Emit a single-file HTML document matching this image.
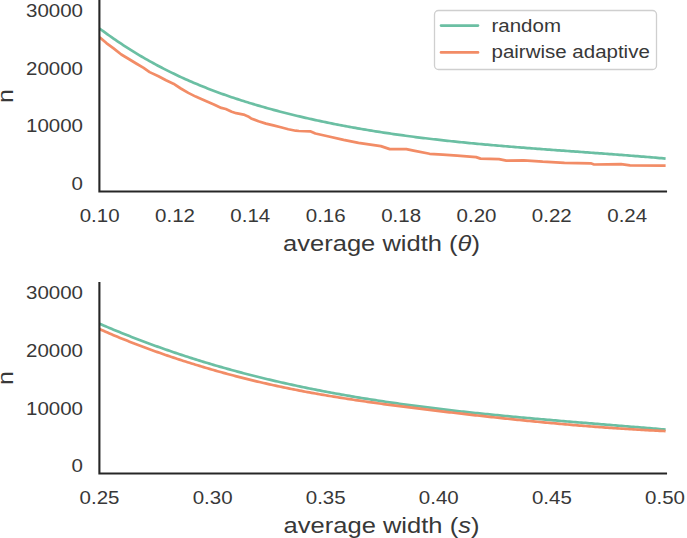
<!DOCTYPE html>
<html><head><meta charset="utf-8"><style>
html,body{margin:0;padding:0;background:#fff;}
svg{display:block;}
.tk{font-family:"Liberation Sans", sans-serif;font-size:18.5px;fill:#383838;}
.lb{font-family:"Liberation Sans", sans-serif;font-size:22.6px;fill:#383838;}
</style></head><body>
<svg width="687" height="538" viewBox="0 0 687 538">
<rect width="687" height="538" fill="#fff"/>
<text transform="translate(83,17.0) scale(1.108,1)" text-anchor="end" class="tk">30000</text>
<text transform="translate(83,75.1) scale(1.108,1)" text-anchor="end" class="tk">20000</text>
<text transform="translate(83,132.3) scale(1.108,1)" text-anchor="end" class="tk">10000</text>
<text transform="translate(83,190.1) scale(1.108,1)" text-anchor="end" class="tk">0</text>
<text transform="translate(99.6,222.0) scale(1.108,1)" text-anchor="middle" class="tk">0.10</text>
<text transform="translate(175.0,222.0) scale(1.108,1)" text-anchor="middle" class="tk">0.12</text>
<text transform="translate(250.3,222.0) scale(1.108,1)" text-anchor="middle" class="tk">0.14</text>
<text transform="translate(325.7,222.0) scale(1.108,1)" text-anchor="middle" class="tk">0.16</text>
<text transform="translate(401.1,222.0) scale(1.108,1)" text-anchor="middle" class="tk">0.18</text>
<text transform="translate(476.5,222.0) scale(1.108,1)" text-anchor="middle" class="tk">0.20</text>
<text transform="translate(551.8,222.0) scale(1.108,1)" text-anchor="middle" class="tk">0.22</text>
<text transform="translate(627.2,222.0) scale(1.108,1)" text-anchor="middle" class="tk">0.24</text>
<text transform="translate(381.5,250.6) scale(1.13,1)" text-anchor="middle" class="lb">average width (<tspan font-style="italic">θ</tspan>)</text>
<text transform="translate(13,96.2) rotate(-90) scale(1.1,1)" text-anchor="middle" class="lb">n</text>
<path d="M99.5,28.47 L101.5,29.97 L103.5,31.44 L105.5,32.90 L107.5,34.34 L109.5,35.77 L111.5,37.18 L113.5,38.58 L115.5,39.95 L117.5,41.32 L119.5,42.66 L121.5,43.99 L123.5,45.31 L125.5,46.61 L127.5,47.89 L129.5,49.16 L131.5,50.42 L133.5,51.66 L135.5,52.88 L137.5,54.09 L139.5,55.29 L141.5,56.47 L143.5,57.64 L145.5,58.80 L147.5,59.94 L149.5,61.07 L151.5,62.18 L153.5,63.28 L155.5,64.37 L157.5,65.44 L159.5,66.50 L161.5,67.55 L163.5,68.58 L165.5,69.61 L167.5,70.62 L169.5,71.61 L171.5,72.60 L173.5,73.57 L175.5,74.53 L177.5,75.48 L179.5,76.42 L181.5,77.35 L183.5,78.26 L185.5,79.17 L187.5,80.06 L189.5,80.94 L191.5,81.81 L193.5,82.67 L195.5,83.52 L197.5,84.36 L199.5,85.19 L201.5,86.01 L203.5,86.82 L205.5,87.61 L207.5,88.40 L209.5,89.18 L211.5,89.95 L213.5,90.71 L215.5,91.46 L217.5,92.21 L219.5,92.94 L221.5,93.66 L223.5,94.38 L225.5,95.09 L227.5,95.78 L229.5,96.47 L231.5,97.16 L233.5,97.83 L235.5,98.50 L237.5,99.15 L239.5,99.81 L241.5,100.45 L243.5,101.08 L245.5,101.71 L247.5,102.33 L249.5,102.95 L251.5,103.56 L253.5,104.16 L255.5,104.75 L257.5,105.34 L259.5,105.92 L261.5,106.50 L263.5,107.07 L265.5,107.63 L267.5,108.19 L269.5,108.74 L271.5,109.29 L273.5,109.83 L275.5,110.37 L277.5,110.90 L279.5,111.43 L281.5,111.95 L283.5,112.46 L285.5,112.97 L287.5,113.48 L289.5,113.98 L291.5,114.48 L293.5,114.97 L295.5,115.45 L297.5,115.94 L299.5,116.41 L301.5,116.88 L303.5,117.35 L305.5,117.81 L307.5,118.27 L309.5,118.73 L311.5,119.17 L313.5,119.62 L315.5,120.06 L317.5,120.49 L319.5,120.92 L321.5,121.35 L323.5,121.77 L325.5,122.19 L327.5,122.60 L329.5,123.01 L331.5,123.42 L333.5,123.82 L335.5,124.21 L337.5,124.61 L339.5,124.99 L341.5,125.38 L343.5,125.76 L345.5,126.13 L347.5,126.51 L349.5,126.87 L351.5,127.24 L353.5,127.60 L355.5,127.95 L357.5,128.31 L359.5,128.66 L361.5,129.00 L363.5,129.34 L365.5,129.68 L367.5,130.01 L369.5,130.35 L371.5,130.67 L373.5,131.00 L375.5,131.32 L377.5,131.63 L379.5,131.95 L381.5,132.26 L383.5,132.56 L385.5,132.86 L387.5,133.16 L389.5,133.46 L391.5,133.75 L393.5,134.04 L395.5,134.33 L397.5,134.62 L399.5,134.90 L401.5,135.17 L403.5,135.45 L405.5,135.72 L407.5,135.99 L409.5,136.26 L411.5,136.52 L413.5,136.78 L415.5,137.04 L417.5,137.29 L419.5,137.54 L421.5,137.79 L423.5,138.04 L425.5,138.28 L427.5,138.52 L429.5,138.76 L431.5,139.00 L433.5,139.23 L435.5,139.46 L437.5,139.69 L439.5,139.92 L441.5,140.14 L443.5,140.36 L445.5,140.58 L447.5,140.80 L449.5,141.02 L451.5,141.23 L453.5,141.44 L455.5,141.65 L457.5,141.85 L459.5,142.06 L461.5,142.26 L463.5,142.46 L465.5,142.66 L467.5,142.86 L469.5,143.05 L471.5,143.24 L473.5,143.44 L475.5,143.62 L477.5,143.81 L479.5,144.00 L481.5,144.18 L483.5,144.36 L485.5,144.55 L487.5,144.72 L489.5,144.90 L491.5,145.08 L493.5,145.25 L495.5,145.43 L497.5,145.60 L499.5,145.77 L501.5,145.94 L503.5,146.11 L505.5,146.27 L507.5,146.44 L509.5,146.60 L511.5,146.77 L513.5,146.93 L515.5,147.09 L517.5,147.25 L519.5,147.41 L521.5,147.57 L523.5,147.72 L525.5,147.88 L527.5,148.03 L529.5,148.19 L531.5,148.34 L533.5,148.49 L535.5,148.65 L537.5,148.80 L539.5,148.95 L541.5,149.10 L543.5,149.25 L545.5,149.39 L547.5,149.54 L549.5,149.69 L551.5,149.84 L553.5,149.98 L555.5,150.13 L557.5,150.28 L559.5,150.42 L561.5,150.57 L563.5,150.71 L565.5,150.86 L567.5,151.00 L569.5,151.15 L571.5,151.29 L573.5,151.44 L575.5,151.58 L577.5,151.72 L579.5,151.87 L581.5,152.01 L583.5,152.16 L585.5,152.30 L587.5,152.44 L589.5,152.59 L591.5,152.73 L593.5,152.88 L595.5,153.03 L597.5,153.17 L599.5,153.32 L601.5,153.46 L603.5,153.61 L605.5,153.76 L607.5,153.91 L609.5,154.05 L611.5,154.20 L613.5,154.35 L615.5,154.50 L617.5,154.65 L619.5,154.80 L621.5,154.96 L623.5,155.11 L625.5,155.26 L627.5,155.42 L629.5,155.57 L631.5,155.73 L633.5,155.89 L635.5,156.05 L637.5,156.21 L639.5,156.37 L641.5,156.53 L643.5,156.69 L645.5,156.85 L647.5,157.02 L649.5,157.18 L651.5,157.35 L653.5,157.52 L655.5,157.69 L657.5,157.86 L659.5,158.03 L661.5,158.21 L663.5,158.38 L665.5,158.56 L665.6,158.57" fill="none" stroke="#6bbfa3" stroke-width="2.7" stroke-linejoin="round" stroke-linecap="butt"/>
<path d="M99.5,37.40 L100.5,37.90 L106.4,43.10 L113.9,48.60 L121.3,54.50 L128.8,59.00 L136.2,63.50 L143.6,67.90 L149.6,72.10 L158.5,76.30 L166.0,80.30 L173.4,83.70 L180.8,88.50 L188.3,92.90 L195.7,96.60 L199.0,98.00 L206.4,101.30 L213.9,104.50 L221.3,107.90 L225.8,109.00 L231.7,111.70 L236.2,113.20 L243.6,114.60 L248.1,116.40 L251.1,118.40 L258.5,121.30 L266.0,123.60 L273.4,125.40 L280.8,127.30 L288.3,129.20 L295.7,130.70 L299.0,131.00 L310.2,131.30 L315.4,133.50 L328.8,136.50 L343.6,139.90 L358.5,142.90 L380.8,146.10 L389.8,149.10 L399.0,149.20 L406.3,149.10 L413.6,150.60 L429.6,153.80 L442.7,154.60 L457.2,155.70 L476.1,157.10 L480.5,158.60 L499.0,159.20 L506.3,160.60 L523.7,160.30 L542.7,161.70 L564.5,162.80 L590.7,163.30 L594.1,164.50 L621.0,164.20 L630.0,165.40 L664.6,165.60 L665.6,165.60" fill="none" stroke="#f28c66" stroke-width="2.7" stroke-linejoin="round" stroke-linecap="butt"/>
<path d="M99.4,1.0 L99.4,191.5 L666,191.5" fill="none" stroke="#262626" stroke-width="2.1" stroke-linecap="square"/>
<text transform="translate(83,299.2) scale(1.108,1)" text-anchor="end" class="tk">30000</text>
<text transform="translate(83,357.1) scale(1.108,1)" text-anchor="end" class="tk">20000</text>
<text transform="translate(83,414.5) scale(1.108,1)" text-anchor="end" class="tk">10000</text>
<text transform="translate(83,471.6) scale(1.108,1)" text-anchor="end" class="tk">0</text>
<text transform="translate(99.5,503.7) scale(1.108,1)" text-anchor="middle" class="tk">0.25</text>
<text transform="translate(212.6,503.7) scale(1.108,1)" text-anchor="middle" class="tk">0.30</text>
<text transform="translate(325.7,503.7) scale(1.108,1)" text-anchor="middle" class="tk">0.35</text>
<text transform="translate(438.8,503.7) scale(1.108,1)" text-anchor="middle" class="tk">0.40</text>
<text transform="translate(551.9,503.7) scale(1.108,1)" text-anchor="middle" class="tk">0.45</text>
<text transform="translate(665.0,503.7) scale(1.108,1)" text-anchor="middle" class="tk">0.50</text>
<text transform="translate(381.5,532.6) scale(1.13,1)" text-anchor="middle" class="lb">average width (<tspan font-style="italic">s</tspan>)</text>
<text transform="translate(13,378.2) rotate(-90) scale(1.1,1)" text-anchor="middle" class="lb">n</text>
<path d="M99.5,323.70 L101.5,324.56 L103.5,325.42 L105.5,326.28 L107.5,327.13 L109.5,327.97 L111.5,328.81 L113.5,329.64 L115.5,330.47 L117.5,331.29 L119.5,332.11 L121.5,332.92 L123.5,333.72 L125.5,334.52 L127.5,335.32 L129.5,336.11 L131.5,336.90 L133.5,337.67 L135.5,338.45 L137.5,339.22 L139.5,339.98 L141.5,340.74 L143.5,341.50 L145.5,342.25 L147.5,342.99 L149.5,343.73 L151.5,344.46 L153.5,345.19 L155.5,345.91 L157.5,346.63 L159.5,347.35 L161.5,348.06 L163.5,348.76 L165.5,349.46 L167.5,350.15 L169.5,350.84 L171.5,351.53 L173.5,352.21 L175.5,352.89 L177.5,353.56 L179.5,354.22 L181.5,354.88 L183.5,355.54 L185.5,356.19 L187.5,356.84 L189.5,357.48 L191.5,358.12 L193.5,358.75 L195.5,359.38 L197.5,360.01 L199.5,360.63 L201.5,361.24 L203.5,361.85 L205.5,362.46 L207.5,363.06 L209.5,363.66 L211.5,364.26 L213.5,364.84 L215.5,365.43 L217.5,366.01 L219.5,366.59 L221.5,367.16 L223.5,367.73 L225.5,368.29 L227.5,368.85 L229.5,369.41 L231.5,369.96 L233.5,370.50 L235.5,371.05 L237.5,371.59 L239.5,372.12 L241.5,372.65 L243.5,373.18 L245.5,373.70 L247.5,374.22 L249.5,374.74 L251.5,375.25 L253.5,375.76 L255.5,376.26 L257.5,376.76 L259.5,377.25 L261.5,377.75 L263.5,378.23 L265.5,378.72 L267.5,379.20 L269.5,379.68 L271.5,380.15 L273.5,380.62 L275.5,381.08 L277.5,381.55 L279.5,382.01 L281.5,382.46 L283.5,382.91 L285.5,383.36 L287.5,383.80 L289.5,384.24 L291.5,384.68 L293.5,385.12 L295.5,385.55 L297.5,385.97 L299.5,386.40 L301.5,386.82 L303.5,387.23 L305.5,387.65 L307.5,388.06 L309.5,388.47 L311.5,388.87 L313.5,389.27 L315.5,389.67 L317.5,390.06 L319.5,390.45 L321.5,390.84 L323.5,391.23 L325.5,391.61 L327.5,391.99 L329.5,392.36 L331.5,392.73 L333.5,393.10 L335.5,393.47 L337.5,393.83 L339.5,394.19 L341.5,394.55 L343.5,394.91 L345.5,395.26 L347.5,395.61 L349.5,395.95 L351.5,396.30 L353.5,396.64 L355.5,396.97 L357.5,397.31 L359.5,397.64 L361.5,397.97 L363.5,398.30 L365.5,398.62 L367.5,398.94 L369.5,399.26 L371.5,399.58 L373.5,399.89 L375.5,400.20 L377.5,400.51 L379.5,400.82 L381.5,401.12 L383.5,401.42 L385.5,401.72 L387.5,402.02 L389.5,402.31 L391.5,402.60 L393.5,402.89 L395.5,403.18 L397.5,403.46 L399.5,403.74 L401.5,404.02 L403.5,404.30 L405.5,404.58 L407.5,404.85 L409.5,405.12 L411.5,405.39 L413.5,405.65 L415.5,405.92 L417.5,406.18 L419.5,406.44 L421.5,406.70 L423.5,406.96 L425.5,407.21 L427.5,407.46 L429.5,407.71 L431.5,407.96 L433.5,408.21 L435.5,408.45 L437.5,408.69 L439.5,408.94 L441.5,409.17 L443.5,409.41 L445.5,409.65 L447.5,409.88 L449.5,410.11 L451.5,410.34 L453.5,410.57 L455.5,410.80 L457.5,411.02 L459.5,411.25 L461.5,411.47 L463.5,411.69 L465.5,411.91 L467.5,412.12 L469.5,412.34 L471.5,412.55 L473.5,412.76 L475.5,412.98 L477.5,413.19 L479.5,413.39 L481.5,413.60 L483.5,413.81 L485.5,414.01 L487.5,414.21 L489.5,414.41 L491.5,414.61 L493.5,414.81 L495.5,415.01 L497.5,415.21 L499.5,415.40 L501.5,415.60 L503.5,415.79 L505.5,415.98 L507.5,416.17 L509.5,416.36 L511.5,416.55 L513.5,416.74 L515.5,416.92 L517.5,417.11 L519.5,417.29 L521.5,417.48 L523.5,417.66 L525.5,417.84 L527.5,418.02 L529.5,418.20 L531.5,418.38 L533.5,418.56 L535.5,418.73 L537.5,418.91 L539.5,419.09 L541.5,419.26 L543.5,419.44 L545.5,419.61 L547.5,419.78 L549.5,419.96 L551.5,420.13 L553.5,420.30 L555.5,420.47 L557.5,420.64 L559.5,420.81 L561.5,420.98 L563.5,421.14 L565.5,421.31 L567.5,421.48 L569.5,421.65 L571.5,421.81 L573.5,421.98 L575.5,422.15 L577.5,422.31 L579.5,422.48 L581.5,422.64 L583.5,422.80 L585.5,422.97 L587.5,423.13 L589.5,423.30 L591.5,423.46 L593.5,423.62 L595.5,423.79 L597.5,423.95 L599.5,424.11 L601.5,424.28 L603.5,424.44 L605.5,424.60 L607.5,424.77 L609.5,424.93 L611.5,425.09 L613.5,425.25 L615.5,425.42 L617.5,425.58 L619.5,425.74 L621.5,425.91 L623.5,426.07 L625.5,426.23 L627.5,426.40 L629.5,426.56 L631.5,426.73 L633.5,426.89 L635.5,427.06 L637.5,427.22 L639.5,427.39 L641.5,427.55 L643.5,427.72 L645.5,427.88 L647.5,428.05 L649.5,428.22 L651.5,428.39 L653.5,428.56 L655.5,428.72 L657.5,428.89 L659.5,429.06 L661.5,429.24 L663.5,429.41 L665.5,429.58 L665.6,429.59" fill="none" stroke="#6bbfa3" stroke-width="2.7" stroke-linejoin="round" stroke-linecap="butt"/>
<path d="M99.5,329.10 L101.5,329.98 L103.5,330.86 L105.5,331.73 L107.5,332.59 L109.5,333.45 L111.5,334.29 L113.5,335.14 L115.5,335.97 L117.5,336.80 L119.5,337.63 L121.5,338.44 L123.5,339.25 L125.5,340.06 L127.5,340.86 L129.5,341.65 L131.5,342.43 L133.5,343.22 L135.5,343.99 L137.5,344.76 L139.5,345.52 L141.5,346.28 L143.5,347.03 L145.5,347.77 L147.5,348.51 L149.5,349.25 L151.5,349.97 L153.5,350.70 L155.5,351.41 L157.5,352.13 L159.5,352.83 L161.5,353.53 L163.5,354.23 L165.5,354.92 L167.5,355.61 L169.5,356.29 L171.5,356.96 L173.5,357.63 L175.5,358.30 L177.5,358.96 L179.5,359.61 L181.5,360.26 L183.5,360.91 L185.5,361.55 L187.5,362.19 L189.5,362.82 L191.5,363.45 L193.5,364.07 L195.5,364.69 L197.5,365.30 L199.5,365.91 L201.5,366.51 L203.5,367.11 L205.5,367.71 L207.5,368.30 L209.5,368.88 L211.5,369.46 L213.5,370.04 L215.5,370.61 L217.5,371.18 L219.5,371.74 L221.5,372.30 L223.5,372.85 L225.5,373.40 L227.5,373.95 L229.5,374.49 L231.5,375.02 L233.5,375.55 L235.5,376.08 L237.5,376.60 L239.5,377.12 L241.5,377.63 L243.5,378.14 L245.5,378.64 L247.5,379.14 L249.5,379.63 L251.5,380.12 L253.5,380.61 L255.5,381.09 L257.5,381.57 L259.5,382.04 L261.5,382.51 L263.5,382.97 L265.5,383.43 L267.5,383.88 L269.5,384.33 L271.5,384.78 L273.5,385.22 L275.5,385.66 L277.5,386.09 L279.5,386.52 L281.5,386.94 L283.5,387.36 L285.5,387.77 L287.5,388.19 L289.5,388.59 L291.5,389.00 L293.5,389.39 L295.5,389.79 L297.5,390.18 L299.5,390.57 L301.5,390.95 L303.5,391.33 L305.5,391.71 L307.5,392.08 L309.5,392.45 L311.5,392.82 L313.5,393.18 L315.5,393.54 L317.5,393.89 L319.5,394.24 L321.5,394.59 L323.5,394.94 L325.5,395.28 L327.5,395.62 L329.5,395.96 L331.5,396.29 L333.5,396.62 L335.5,396.95 L337.5,397.27 L339.5,397.59 L341.5,397.91 L343.5,398.23 L345.5,398.54 L347.5,398.85 L349.5,399.16 L351.5,399.46 L353.5,399.77 L355.5,400.07 L357.5,400.36 L359.5,400.66 L361.5,400.95 L363.5,401.24 L365.5,401.53 L367.5,401.82 L369.5,402.10 L371.5,402.39 L373.5,402.67 L375.5,402.94 L377.5,403.22 L379.5,403.49 L381.5,403.77 L383.5,404.04 L385.5,404.31 L387.5,404.58 L389.5,404.84 L391.5,405.11 L393.5,405.37 L395.5,405.63 L397.5,405.89 L399.5,406.15 L401.5,406.40 L403.5,406.66 L405.5,406.92 L407.5,407.17 L409.5,407.42 L411.5,407.67 L413.5,407.92 L415.5,408.17 L417.5,408.42 L419.5,408.67 L421.5,408.91 L423.5,409.16 L425.5,409.40 L427.5,409.65 L429.5,409.89 L431.5,410.13 L433.5,410.38 L435.5,410.62 L437.5,410.86 L439.5,411.10 L441.5,411.34 L443.5,411.58 L445.5,411.81 L447.5,412.05 L449.5,412.29 L451.5,412.52 L453.5,412.76 L455.5,412.99 L457.5,413.22 L459.5,413.46 L461.5,413.69 L463.5,413.92 L465.5,414.15 L467.5,414.38 L469.5,414.61 L471.5,414.83 L473.5,415.06 L475.5,415.29 L477.5,415.51 L479.5,415.73 L481.5,415.96 L483.5,416.18 L485.5,416.40 L487.5,416.62 L489.5,416.84 L491.5,417.06 L493.5,417.27 L495.5,417.49 L497.5,417.71 L499.5,417.92 L501.5,418.13 L503.5,418.35 L505.5,418.56 L507.5,418.77 L509.5,418.97 L511.5,419.18 L513.5,419.39 L515.5,419.60 L517.5,419.80 L519.5,420.00 L521.5,420.21 L523.5,420.41 L525.5,420.61 L527.5,420.80 L529.5,421.00 L531.5,421.20 L533.5,421.39 L535.5,421.59 L537.5,421.78 L539.5,421.97 L541.5,422.16 L543.5,422.35 L545.5,422.54 L547.5,422.73 L549.5,422.91 L551.5,423.10 L553.5,423.28 L555.5,423.46 L557.5,423.64 L559.5,423.82 L561.5,424.00 L563.5,424.17 L565.5,424.35 L567.5,424.52 L569.5,424.69 L571.5,424.86 L573.5,425.03 L575.5,425.20 L577.5,425.36 L579.5,425.53 L581.5,425.69 L583.5,425.85 L585.5,426.02 L587.5,426.17 L589.5,426.33 L591.5,426.49 L593.5,426.64 L595.5,426.79 L597.5,426.95 L599.5,427.10 L601.5,427.24 L603.5,427.39 L605.5,427.54 L607.5,427.68 L609.5,427.82 L611.5,427.96 L613.5,428.10 L615.5,428.24 L617.5,428.37 L619.5,428.51 L621.5,428.64 L623.5,428.77 L625.5,428.90 L627.5,429.02 L629.5,429.15 L631.5,429.27 L633.5,429.40 L635.5,429.52 L637.5,429.63 L639.5,429.75 L641.5,429.87 L643.5,429.98 L645.5,430.09 L647.5,430.20 L649.5,430.31 L651.5,430.41 L653.5,430.52 L655.5,430.62 L657.5,430.72 L659.5,430.82 L661.5,430.92 L663.5,431.01 L665.5,431.10 L665.6,431.11" fill="none" stroke="#f28c66" stroke-width="2.7" stroke-linejoin="round" stroke-linecap="butt"/>
<path d="M99.4,283.0 L99.4,473.5 L666,473.5" fill="none" stroke="#262626" stroke-width="2.1" stroke-linecap="square"/>

<rect x="434.5" y="10.5" width="222" height="59" rx="4" ry="4" fill="#ffffff" fill-opacity="0.8" stroke="#cfcfcf" stroke-width="1.3"/>
<path d="M441,25.6 L478,25.6" stroke="#6bbfa3" stroke-width="2.6" stroke-linecap="round"/>
<path d="M441,52.4 L478,52.4" stroke="#f28c66" stroke-width="2.6" stroke-linecap="round"/>
<text transform="translate(491.5,31.5) scale(1.108,1)" class="tk">random</text>
<text transform="translate(491.5,58.3) scale(1.108,1)" class="tk">pairwise adaptive</text>

</svg>
</body></html>
